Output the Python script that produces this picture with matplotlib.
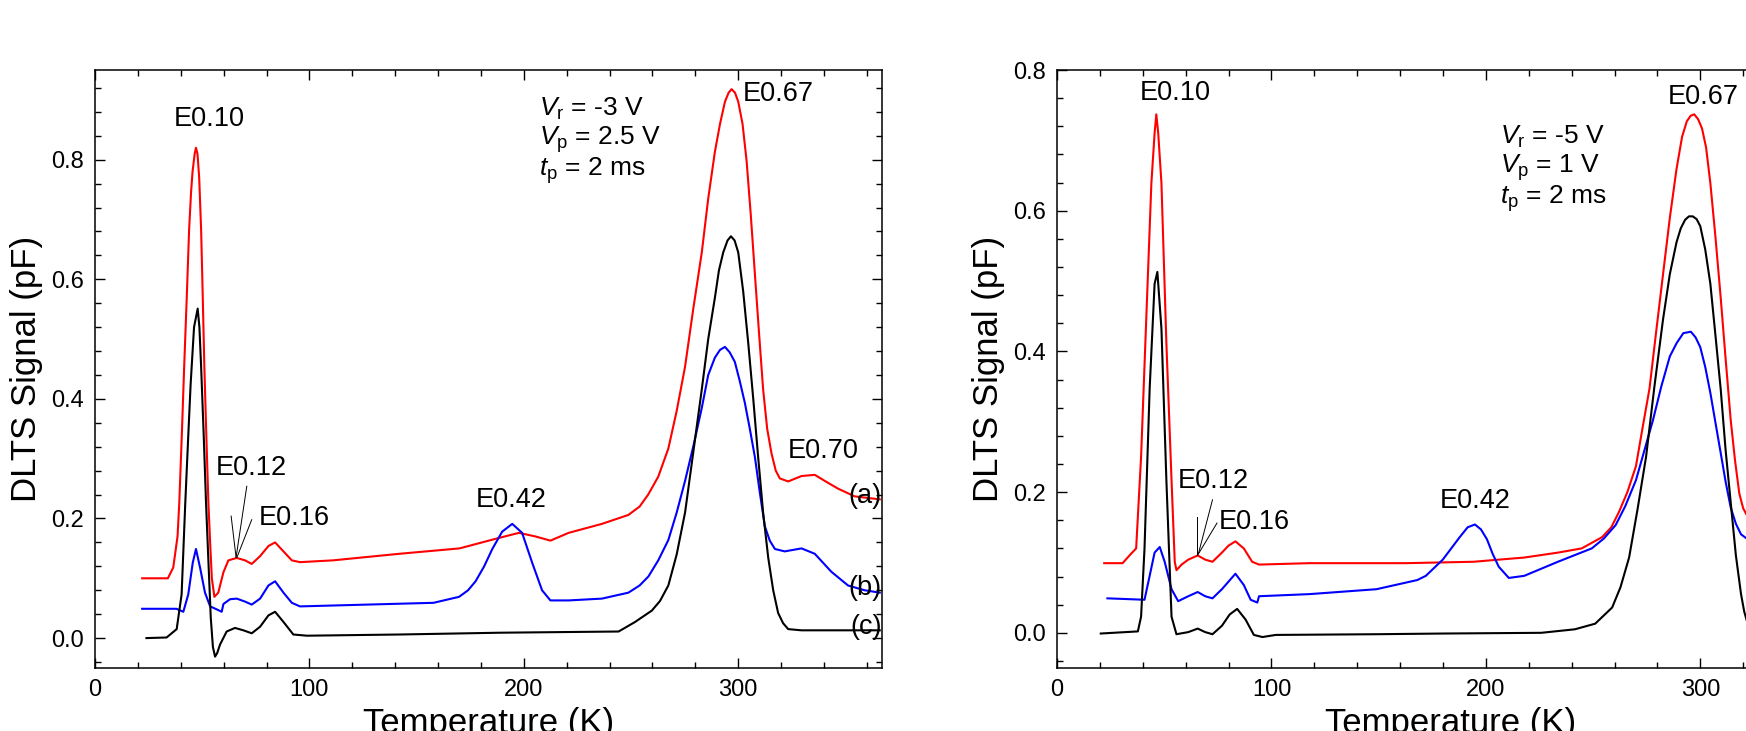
import matplotlib
matplotlib.use('Agg')
import matplotlib.pyplot as plt
from matplotlib.ticker import MultipleLocator

plt.rcParams['font.family'] = ['Liberation Sans', 'DejaVu Sans']
plt.rcParams['mathtext.fontset'] = 'custom'
plt.rcParams['mathtext.rm'] = 'Liberation Sans'
plt.rcParams['mathtext.it'] = 'Liberation Sans:italic'

# ---- left panel (Vr = -3 V) ----
left_T_a = [22, 34, 36.5, 38.5, 39.3, 40.5, 41.6, 42.8, 43.9, 44.8, 45.5, 46.5, 47.1, 47.8, 48.6, 49.5,
            50.2, 51, 52, 52.9, 53.7, 54.5, 55.7, 57.5, 59.9, 62.2, 66.1, 70, 73.1, 77, 80.9, 84, 87.9,
            91.8, 95.6, 111, 142, 170, 186.8, 197.7, 205.4, 212.4, 220.9, 236.4, 248.8, 254, 258,
            262.7, 267.4, 271.3, 275.2, 279, 283, 286, 289.1, 291.5, 293.8, 295.5, 296.9, 298.5, 300,
            302, 303.9, 305.8, 307.8, 309.7, 311.6, 313.5, 315.5, 317.5, 319.4, 323.3, 329.5, 335.7,
            340.3, 346.5, 354.3, 363.6, 366]
left_a = [0.10, 0.10, 0.118, 0.17, 0.225, 0.34, 0.454, 0.57, 0.683, 0.745, 0.78, 0.81, 0.82, 0.81, 0.77,
          0.683, 0.58, 0.454, 0.33, 0.225, 0.16, 0.10, 0.069, 0.076, 0.11, 0.13, 0.134, 0.13, 0.124,
          0.137, 0.154, 0.16, 0.145, 0.13, 0.127, 0.13, 0.141, 0.15, 0.166, 0.176, 0.17, 0.163, 0.176,
          0.191, 0.206, 0.22, 0.24, 0.27, 0.317, 0.38, 0.454, 0.55, 0.645, 0.735, 0.813, 0.86, 0.897,
          0.912, 0.918, 0.912, 0.897, 0.86, 0.798, 0.71, 0.607, 0.51, 0.416, 0.35, 0.309, 0.28, 0.267,
          0.262, 0.271, 0.273, 0.263, 0.25, 0.237, 0.233, 0.232]

left_T_b = [22, 38, 41.2, 43.5, 45.6, 47.1, 49, 51.3, 53.7, 56.8, 59.1, 59.9, 63, 66.1, 70, 73.1, 77,
            80.9, 84, 87.9, 91.8, 95.6, 126.7, 157.9, 169.8, 174, 177.5, 181.5, 185.3, 189.9, 194.6,
            199.2, 203.9, 208.5, 212.4, 220.9, 236.4, 248.8, 254, 258.1, 262.7, 267.4, 271.3, 275.2,
            279, 283, 286, 289.1, 291.5, 293.8, 296, 298.4, 300.7, 303.1, 305.4, 307.8, 310, 312.4,
            314.7, 317.1, 321.7, 329.5, 335.7, 343.4, 351.2, 358.9, 366]
left_b = [0.049, 0.049, 0.044, 0.073, 0.126, 0.149, 0.118, 0.076, 0.053, 0.048, 0.044, 0.057, 0.065,
          0.066, 0.061, 0.056, 0.066, 0.088, 0.095, 0.076, 0.059, 0.053, 0.056, 0.059, 0.069, 0.08,
          0.095, 0.12, 0.149, 0.178, 0.191, 0.176, 0.126, 0.08, 0.063, 0.063, 0.066, 0.076, 0.088,
          0.103, 0.13, 0.164, 0.21, 0.263, 0.32, 0.385, 0.44, 0.469, 0.482, 0.487, 0.478, 0.462, 0.43,
          0.393, 0.35, 0.302, 0.245, 0.187, 0.163, 0.149, 0.145, 0.15, 0.141, 0.111, 0.088, 0.08, 0.076]

left_T_c = [24, 33.4, 38.1, 40.4, 42.1, 43.4, 44.6, 46.2, 47.9, 48.7, 49.5, 50.7, 51.8, 53, 54, 55, 56,
            57, 58.3, 61.4, 65.3, 69.2, 73.1, 77, 80.9, 84, 87.9, 92.5, 98.8, 142, 189, 244.2, 251.9,
            259.7, 263.5, 267.4, 271.3, 275.2, 279, 283, 286, 289.1, 291, 293, 295, 296.6, 298.3, 300,
            302.3, 304.7, 307, 309.3, 311.6, 314, 316.3, 318.6, 320.9, 323.3, 329.5, 366]
left_c = [0.0, 0.001, 0.015, 0.073, 0.225, 0.33, 0.424, 0.52, 0.551, 0.52, 0.454, 0.34, 0.225, 0.12,
          0.034, -0.015, -0.031, -0.025, -0.011, 0.011, 0.017, 0.013, 0.008, 0.019, 0.038, 0.044, 0.027,
          0.006, 0.004, 0.006, 0.009, 0.011, 0.027, 0.046, 0.062, 0.088, 0.14, 0.21, 0.31, 0.416, 0.50,
          0.569, 0.615, 0.645, 0.665, 0.672, 0.665, 0.645, 0.58, 0.492, 0.40, 0.302, 0.21, 0.134, 0.08,
          0.042, 0.025, 0.015, 0.013, 0.013]

# ---- right panel (Vr = -5 V) ----
right_T_a = [22, 30.6, 33.8, 36.9, 39.2, 41.6, 44, 45.5, 46.3, 47.2, 48.7, 51, 53.4, 54.9, 55.7, 58.1,
             61.2, 65.6, 69.1, 72.5, 76.9, 80, 83.2, 87.1, 91, 94.2, 117.7, 162.6, 194.2, 217.9, 233.6,
             244.7, 254.2, 258.5, 262.1, 266, 270, 273, 276.3, 279.5, 282.6, 285.8, 288.9, 291.5, 293.7,
             295.5, 297.2, 299, 300.8, 302.7, 304.7, 307, 309.5, 311.8, 314.2, 316.2, 318.2, 320, 322.1,
             326.5, 334, 342, 355, 366]
right_a = [0.099, 0.099, 0.11, 0.12, 0.25, 0.445, 0.639, 0.71, 0.737, 0.71, 0.639, 0.412, 0.217, 0.101,
           0.089, 0.097, 0.104, 0.11, 0.104, 0.101, 0.114, 0.124, 0.13, 0.12, 0.101, 0.097, 0.099,
           0.099, 0.101, 0.107, 0.114, 0.12, 0.136, 0.15, 0.172, 0.20, 0.237, 0.29, 0.347, 0.43, 0.509,
           0.59, 0.659, 0.705, 0.727, 0.735, 0.737, 0.73, 0.717, 0.69, 0.639, 0.565, 0.477, 0.39, 0.302,
           0.245, 0.198, 0.177, 0.165, 0.162, 0.168, 0.165, 0.155, 0.15]

right_T_b = [23.5, 40.8, 43.2, 45.5, 47.9, 50.2, 53.4, 56.5, 61.2, 65.6, 69.1, 72.5, 76.9, 83.2, 87.1,
             90.3, 93.4, 94.2, 117.7, 149, 168, 172, 179.9, 187.8, 191.5, 194.9, 197.7, 200.5, 203.2,
             206, 210.7, 217.9, 233.6, 249.4, 255, 260.5, 265, 270, 274, 277.9, 281.8, 285.8, 289,
             292.1, 295.6, 297.8, 300, 302.3, 304.7, 307, 309.5, 311.8, 314.2, 316.6, 319, 322.1, 326.5,
             335, 345, 366]
right_b = [0.049, 0.047, 0.081, 0.114, 0.122, 0.101, 0.062, 0.045, 0.052, 0.058, 0.052, 0.049, 0.062,
           0.084, 0.068, 0.047, 0.043, 0.052, 0.055, 0.062, 0.075, 0.081, 0.104, 0.136, 0.15, 0.154,
           0.147, 0.133, 0.112, 0.094, 0.078, 0.081, 0.101, 0.12, 0.134, 0.153, 0.18, 0.217, 0.26, 0.302,
           0.35, 0.393, 0.412, 0.426, 0.428, 0.42, 0.406, 0.378, 0.341, 0.30, 0.256, 0.215, 0.178, 0.155,
           0.14, 0.133, 0.134, 0.14, 0.12, 0.09]

right_T_c = [20.4, 37.7, 39.2, 40.8, 43.2, 45.5, 46.8, 48.7, 51, 53.4, 55.7, 61.2, 65.6, 69.1, 72.5,
             76.9, 80.5, 84, 87.9, 91.8, 95.8, 102, 149, 180.5, 225.8, 241.5, 251, 258.9, 262.8, 266.8,
             270.7, 274.7, 278.6, 282.6, 285.8, 288.9, 290.9, 292.9, 294.7, 296.5, 298.3, 300, 302.3,
             304.7, 307, 309.5, 311.8, 314.2, 316.6, 319, 320.5, 322.1, 326.5, 366]
right_c = [-0.001, 0.002, 0.023, 0.12, 0.347, 0.496, 0.513, 0.432, 0.217, 0.023, -0.002, 0.001, 0.006,
           0.001, -0.002, 0.01, 0.026, 0.034, 0.019, -0.003, -0.006, -0.003, -0.002, -0.001, 0.0, 0.005,
           0.013, 0.036, 0.065, 0.107, 0.175, 0.25, 0.35, 0.445, 0.51, 0.555, 0.575, 0.587, 0.592, 0.592,
           0.588, 0.578, 0.545, 0.496, 0.425, 0.347, 0.26, 0.185, 0.11, 0.055, 0.03, 0.013, 0.001, 0.0]

# peak labels: (text, T, signal, ha)
left_labels = [('E0.10', 53.3, 0.868, 'center'), ('E0.12', 72.8, 0.285, 'center'),
               ('E0.16', 92.8, 0.20, 'center'), ('E0.42', 194, 0.231, 'center'),
               ('E0.67', 302.3, 0.91, 'left'), ('E0.70', 339.4, 0.313, 'center'),
               ('(a)', 366.8, 0.237, 'right'), ('(b)', 366.8, 0.084, 'right'),
               ('(c)', 366.8, 0.019, 'right')]
right_labels = [('E0.10', 55.1, 0.767, 'center'), ('E0.12', 72.8, 0.216, 'center'),
                ('E0.16', 92.2, 0.158, 'center'), ('E0.42', 195.1, 0.187, 'center'),
                ('E0.67', 301.6, 0.762, 'center'), ('E0.70', 324.5, 0.211, 'left')]

# pointer lines: (T0, S0, T1, S1)
left_pointers = [(63.5, 0.204, 65.8, 0.135), (70.8, 0.254, 65.8, 0.135), (73.1, 0.198, 66.2, 0.135)]
right_pointers = [(65.1, 0.165, 65.1, 0.110), (72.5, 0.189, 65.9, 0.112), (74.6, 0.156, 65.9, 0.112)]

left_cond = [r'$V_{\mathrm{r}}$ = -3 V', r'$V_{\mathrm{p}}$ = 2.5 V', r'$t_{\mathrm{p}}$ = 2 ms']
left_cond_y = [0.885, 0.833, 0.781]
right_cond = [r'$V_{\mathrm{r}}$ = -5 V', r'$V_{\mathrm{p}}$ = 1 V', r'$t_{\mathrm{p}}$ = 2 ms']
right_cond_y = [0.705, 0.661, 0.617]

fig = plt.figure(figsize=(17.46, 7.31), dpi=100)
ax1 = fig.add_axes([0.0544, 0.0862, 0.4507, 0.818])
ax2 = fig.add_axes([0.6054, 0.0862, 0.4507, 0.818])


def style(ax, ylim):
    ax.set_xlim(0, 367)
    ax.set_ylim(*ylim)
    ax.xaxis.set_major_locator(MultipleLocator(100))
    ax.xaxis.set_minor_locator(MultipleLocator(20))
    ax.yaxis.set_major_locator(MultipleLocator(0.2))
    ax.yaxis.set_minor_locator(MultipleLocator(0.04))
    ax.tick_params(which='both', direction='in', top=True, right=True, labelsize=17, pad=8)
    ax.tick_params(which='major', length=7, width=1)
    ax.tick_params(which='minor', length=4, width=1)
    for s in ax.spines.values():
        s.set_linewidth(1.1)
    ax.set_xlabel('Temperature (K)', fontsize=25, labelpad=4)
    ax.set_ylabel('DLTS Signal (pF)', fontsize=25, labelpad=6)


for ax, Ta, a, Tb, b, Tc, c in [(ax1, left_T_a, left_a, left_T_b, left_b, left_T_c, left_c),
                                (ax2, right_T_a, right_a, right_T_b, right_b, right_T_c, right_c)]:
    ax.plot(Ta, a, color='#ff0000', lw=1.5)
    ax.plot(Tb, b, color='#0000ff', lw=1.5)
    ax.plot(Tc, c, color='black', lw=1.5)

style(ax1, (-0.05, 0.95))
style(ax2, (-0.05, 0.80))

for ax, labels, pointers, cond, cond_y, cx in [
        (ax1, left_labels, left_pointers, left_cond, left_cond_y, 207),
        (ax2, right_labels, right_pointers, right_cond, right_cond_y, 206.5)]:
    for txt, t, s, ha in labels:
        ax.text(t, s, txt, fontsize=19.5, ha=ha, va='center')
    for t0, s0, t1, s1 in pointers:
        ax.plot([t0, t1], [s0, s1], color='black', lw=0.7)
    for txt, y in zip(cond, cond_y):
        ax.text(cx, y, txt, fontsize=19, ha='left', va='center')

fig.savefig('out.png', dpi=100)
